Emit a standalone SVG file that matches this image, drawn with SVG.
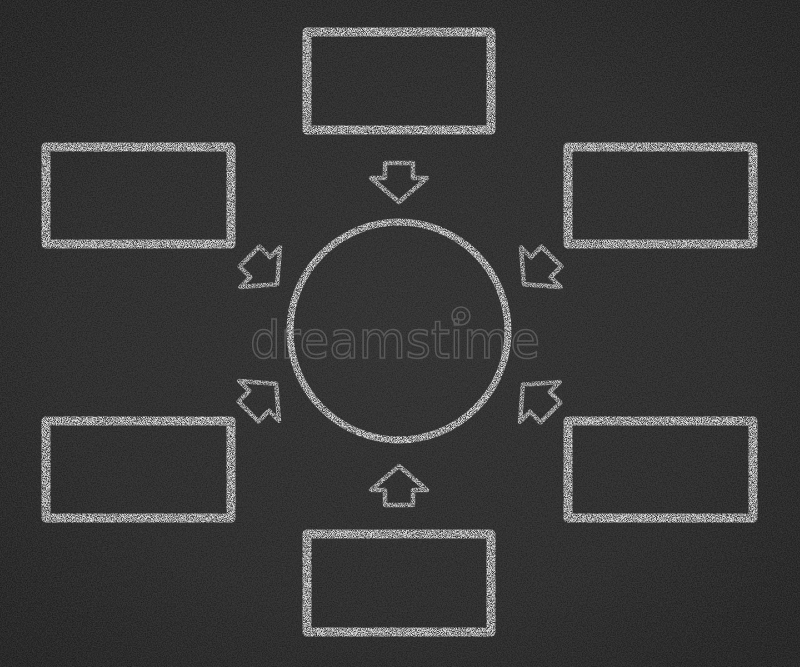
<svg xmlns="http://www.w3.org/2000/svg" width="800" height="667" viewBox="0 0 800 667">
<defs>
<radialGradient id="bg" cx="50%" cy="50%" r="72%">
<stop offset="0" stop-color="#252525"/>
<stop offset="0.6" stop-color="#1e1e1e"/>
<stop offset="1" stop-color="#0f0f0f"/>
</radialGradient>
<filter id="board" x="0" y="0" width="100%" height="100%">
<feTurbulence type="fractalNoise" baseFrequency="0.8" numOctaves="2" seed="3" result="n"/>
<feColorMatrix in="n" type="matrix" values="0 0 0 0 1  0 0 0 0 1  0 0 0 0 1  0 0 0 0.035 0" result="na"/>
<feComposite in="na" in2="SourceGraphic" operator="atop"/>
</filter>
<filter id="chalk" x="-10%" y="-10%" width="120%" height="120%">
<feTurbulence type="fractalNoise" baseFrequency="1.2" numOctaves="2" seed="7" result="n"/>
<feColorMatrix in="n" type="matrix" values="0 0 0 0 0  0 0 0 0 0  0 0 0 0 0  0 0 0 2.2 -0.5" result="a"/>
<feComposite in="SourceGraphic" in2="a" operator="in"/>
</filter>
<path id="arr" d="M -14 -19 L 14 -19 L 14 -4 L 28 -4 L 0 20 L -28 -4 L -14 -4 Z"/>
<style>
.box{fill:none;stroke:#dcdcdc;stroke-width:9;stroke-linejoin:round}
.ring{fill:none;stroke:#dcdcdc;stroke-width:7}
.arrow{fill:none;stroke:#c4c4c4;stroke-width:4.5;stroke-linejoin:round}
.wm{fill:none;stroke:#5a5a5a;stroke-width:1.6;font-family:"DejaVu Sans",sans-serif;font-size:52px}
</style>
</defs>
<rect width="800" height="667" fill="url(#bg)" filter="url(#board)"/>
<g id="watermark">
<text class="wm" x="250" y="358" textLength="290" lengthAdjust="spacingAndGlyphs">dreamstime</text>
<circle cx="461" cy="316" r="9" fill="none" stroke="#5a5a5a" stroke-width="1.6"/>
<circle cx="461" cy="316" r="4" fill="none" stroke="#5a5a5a" stroke-width="1.6"/>
</g>
<g filter="url(#chalk)">
<g id="box-top"><rect class="box" x="307" y="32" width="184" height="98"/></g>
<g id="box-upper-left"><rect class="box" x="46" y="147" width="185" height="97"/></g>
<g id="box-upper-right"><rect class="box" x="568" y="147" width="185" height="97"/></g>
<g id="box-lower-left"><rect class="box" x="46" y="421" width="185" height="97"/></g>
<g id="box-lower-right"><rect class="box" x="568" y="421" width="185" height="97"/></g>
<g id="box-bottom"><rect class="box" x="307" y="534" width="184" height="98"/></g>
<g id="center-circle"><circle class="ring" cx="399" cy="331" r="109"/></g>
<g id="connectors">
<use href="#arr" class="arrow" transform="translate(399,182)"/>
<use href="#arr" class="arrow" transform="translate(399,486) rotate(180)"/>
<use href="#arr" class="arrow" transform="translate(263,270) rotate(-45)"/>
<use href="#arr" class="arrow" transform="translate(538,270) rotate(45)"/>
<use href="#arr" class="arrow" transform="translate(262,398) rotate(-135)"/>
<use href="#arr" class="arrow" transform="translate(537,399) rotate(135)"/>
</g>
</g>
</svg>
